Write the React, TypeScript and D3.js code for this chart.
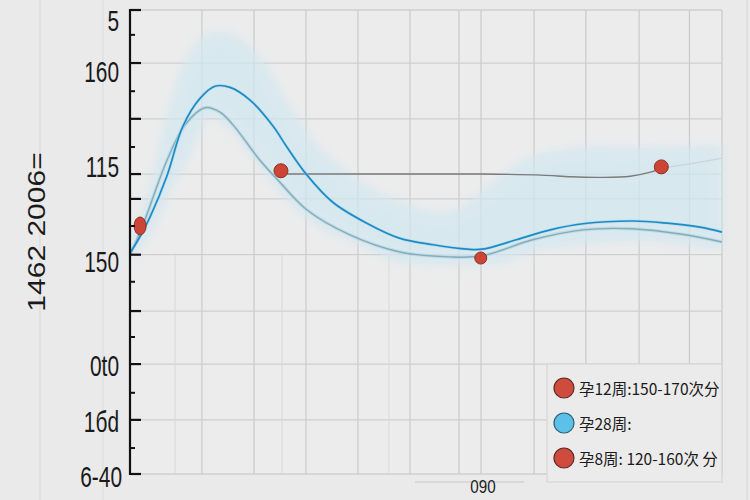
import React from "react";
import * as d3 from "d3";

// ---- data (x: arbitrary week-like units 0..40, y: arbitrary units 0..84) ----
const blueX = [0, 0.68, 1.35, 2.5, 3.58, 4.73, 5.74, 6.76, 8.11, 9.66, 10.6, 11.96, 13.7, 16.0, 18.2, 20.5, 22.8, 23.8, 26.1, 28.4, 30.6, 34.0, 36.3, 38.5, 40];
const blueY = [40, 43, 46.5, 54, 63, 68, 70.2, 70, 67.7, 63, 59.2, 54.1, 49.2, 45.4, 42.7, 41.5, 40.7, 40.7, 42.4, 44.2, 45.3, 45.8, 45.4, 44.7, 43.8];

const lightX = [0, 0.88, 2.5, 3.72, 5.07, 6.08, 6.96, 8.78, 10.1, 11.96, 14.86, 18.24, 21.6, 23.8, 27.2, 30.6, 33.9, 37.3, 40];
const lightY = [39.6, 45.1, 56.8, 63.2, 66.3, 65.5, 63.2, 56.8, 52.9, 47.8, 43.3, 40.2, 39.3, 39.5, 42.4, 44.2, 44.4, 43.4, 42];

const grayX = [10.6, 18.2, 23.8, 27.8, 29.8, 31.8, 33.8, 35.1, 35.9];
const grayY = [54.3, 54.3, 54.3, 54.1, 53.8, 53.7, 53.9, 54.6, 55.3];
const grayTailX = [35.9, 37.5, 40];
const grayTailY = [55.4, 56.0, 57.2];

const bandX = [0, 1.35, 2.7, 4.05, 5.4, 7.1, 8.8, 10.8, 12.8, 15.5, 18.2, 21.6, 25.0, 27.0, 30.4, 35.1, 40];
const bandUpper = [41, 51.8, 66.3, 76.2, 79.8, 79.3, 75.3, 66.3, 59.0, 52.9, 49.2, 47.4, 53.7, 57.2, 59.0, 59.0, 59.4];
const bandLower = [38.9, 43.3, 51.3, 57.9, 64.8, 61.5, 55.6, 49.2, 44.7, 41.6, 38.5, 38.0, 38.3, 40.2, 41.6, 42.2, 40.6];

const pointsX = [10.2, 23.7, 35.9];
const pointsY = [54.9, 39.1, 55.6];
const firstPointX = 0.68;
const firstPointY = 44.9;

const majorTicks = [0, 9.8, 19.9, 29.5, 39.7, 49.8, 54.3, 64.3, 74.4, 84];
const minorTicks = [4.7, 14.7, 24.8, 34.8, 44.9, 59.2, 69.3, 79.5];
const tickLabels = ["5", "160", "115", "150", "0t0", "1бd", "6-40"];
const tickLabelPos = [82, 72.8, 55.6, 38.4, 19.7, 9.4, -0.5];

const vGrid = [4.86, 8.38, 11.89, 15.4, 18.92, 22.23, 23.72, 27.3, 30.8, 34.4, 37.8];
const vGridFaint = [3.04, 10.27, 17.5];

const yTitle = "1462 2006=";
const xTitle = "090";

const legendLabels = ["孕12周:150-170次分", "孕28周:", "孕8周: 120-160次 分"];
const legendFill = ["#cf4b3e", "#5cc0e8", "#cf4b3e"];
const legendStroke = ["#5e2a22", "#2c5f76", "#5e2a22"];

export default function App() {
  const W = 750, H = 500;
  const x = d3.scaleLinear().domain([0, 40]).range([130, 722]);
  const y = d3.scaleLinear().domain([0, 84]).range([474, 10]);

  const line = d3
    .line<[number, number]>()
    .x((d) => x(d[0]))
    .y((d) => y(d[1]))
    .curve(d3.curveCatmullRom.alpha(0.5));

  const area = d3
    .area<number>()
    .x((_, i) => x(bandX[i]))
    .y0((_, i) => y(bandLower[i]))
    .y1((_, i) => y(bandUpper[i]))
    .curve(d3.curveCatmullRom.alpha(0.5));

  const blue = blueX.map((v, i) => [v, blueY[i]] as [number, number]);
  const light = lightX.map((v, i) => [v, lightY[i]] as [number, number]);
  const gray = grayX.map((v, i) => [v, grayY[i]] as [number, number]);
  const grayTail = grayTailX.map((v, i) => [v, grayTailY[i]] as [number, number]);

  const fontNum = "'Liberation Sans', Arial, sans-serif";
  const fontCJK = "'Noto Sans CJK SC', 'Noto Sans', sans-serif";

  return (
    <svg width={W} height={H} style={{ position: "absolute", left: 0, top: 0 }}>
      <defs>
        <filter id="blur" x="-10%" y="-10%" width="120%" height="120%">
          <feGaussianBlur stdDeviation="6" />
        </filter>
      </defs>
      <rect x={0} y={0} width={W} height={H} fill="#eaeaea" />
      {/* faint background lines */}
      <line x1={40} x2={40} y1={0} y2={H} stroke="#dedede" strokeWidth={1.5} />
      <line x1={103} x2={103} y1={0} y2={H} stroke="#e0e0e0" strokeWidth={1.5} />
      <line x1={747} x2={747} y1={0} y2={H} stroke="#dcdcdc" strokeWidth={1.5} />
      <rect x={x(0)} y={y(84)} width={x(40) - x(0)} height={y(0) - y(84)} fill="#ececec" />

      {/* grid */}
      {majorTicks.map((t, i) => (
        <line key={"hg" + i} x1={x(0)} x2={x(40)} y1={y(t)} y2={y(t)} stroke="#cfcfcf" strokeWidth={1.3} />
      ))}
      {vGrid.map((t, i) => (
        <line key={"vg" + i} x1={x(t)} x2={x(t)} y1={y(84)} y2={y(0)} stroke="#cdcdcd" strokeWidth={1.3} />
      ))}
      {vGridFaint.map((t, i) => (
        <line key={"vf" + i} x1={x(t)} x2={x(t)} y1={y(40)} y2={y(0)} stroke="#d9d9d9" strokeWidth={1} />
      ))}
      <line x1={x(40)} x2={x(40)} y1={y(84)} y2={y(0)} stroke="#cfcfcf" strokeWidth={1.5} />

      {/* translucent bands */}
      <path d={area(bandX) ?? ""} fill="#cde5f0" opacity={0.6} filter="url(#blur)" />
      <path d={area(bandX) ?? ""} fill="#d8ebf3" opacity={0.3} />

      {/* gray level line */}
      <path d={line(gray) ?? ""} fill="none" stroke="#7b7b7b" strokeWidth={1.4} />
      <path d={line(grayTail) ?? ""} fill="none" stroke="#c8d6dc" strokeWidth={1.3} />

      {/* curves */}
      <path d={line(light) ?? ""} fill="none" stroke="#bcd5de" strokeWidth={3.5} opacity={0.7} />
      <path d={line(light) ?? ""} fill="none" stroke="#80aebe" strokeWidth={1.4} />
      <path d={line(blue) ?? ""} fill="none" stroke="#a9d4ea" strokeWidth={3} opacity={0.6} />
      <path d={line(blue) ?? ""} fill="none" stroke="#1c8cc6" strokeWidth={1.7} />

      {/* points */}
      <ellipse cx={x(firstPointX)} cy={y(firstPointY)} rx={6} ry={9} fill="#cc4536" stroke="#8a3026" strokeWidth={1} />
      {pointsX.map((v, i) => (
        <circle key={"p" + i} cx={x(v)} cy={y(pointsY[i])} r={i === 1 ? 6 : 7} fill="#cc4536" stroke="#8a3026" strokeWidth={1} />
      ))}

      {/* axis */}
      <line x1={x(0)} x2={x(0)} y1={y(84) - 1} y2={y(0) + 1} stroke="#111" strokeWidth={2.2} />
      {majorTicks.map((t, i) => (
        <line key={"mt" + i} x1={x(0)} x2={x(0) + 11} y1={y(t)} y2={y(t)} stroke="#111" strokeWidth={2.2} />
      ))}
      {minorTicks.map((t, i) => (
        <line key={"nt" + i} x1={x(0)} x2={x(0) + 5} y1={y(t)} y2={y(t)} stroke="#111" strokeWidth={2} />
      ))}
      {tickLabels.map((s, i) => (
        <g key={"tl" + i} transform={`translate(${i === 6 ? 122 : 119},${y(tickLabelPos[i])}) scale(0.72,1)`}>
          <text textAnchor="end" dominantBaseline="central" fontFamily={fontNum} fontSize={29} fill="#1a1a1a">
            {s}
          </text>
        </g>
      ))}

      {/* y title */}
      <g transform="translate(37,232) rotate(-90) scale(1,0.8)">
        <text textAnchor="middle" dominantBaseline="central" fontFamily={fontNum} fontSize={30} fill="#1a1a1a">
          {yTitle}
        </text>
      </g>

      {/* x title */}
      <line x1={415} x2={524} y1={482} y2={482} stroke="#d2d2d2" strokeWidth={1.5} />
      <g transform="translate(483,493) scale(0.8,1)">
        <text textAnchor="middle" fontFamily={fontNum} fontSize={19} fill="#1a1a1a">
          {xTitle}
        </text>
      </g>

      {/* legend */}
      <rect x={547} y={364} width={175} height={118} fill="#ebebeb" stroke="#d6d6d6" strokeWidth={1.2} />
      {legendLabels.map((s, i) => (
        <g key={"lg" + i} transform={`translate(564,${388 + i * 35})`}>
          <circle r={10} fill={legendFill[i]} stroke={legendStroke[i]} strokeWidth={1.2} />
          <text x={15} y={0} dominantBaseline="central" fontFamily={fontCJK} fontSize={15.5} fill="#1a1a1a">
            {s}
          </text>
        </g>
      ))}
    </svg>
  );
}
